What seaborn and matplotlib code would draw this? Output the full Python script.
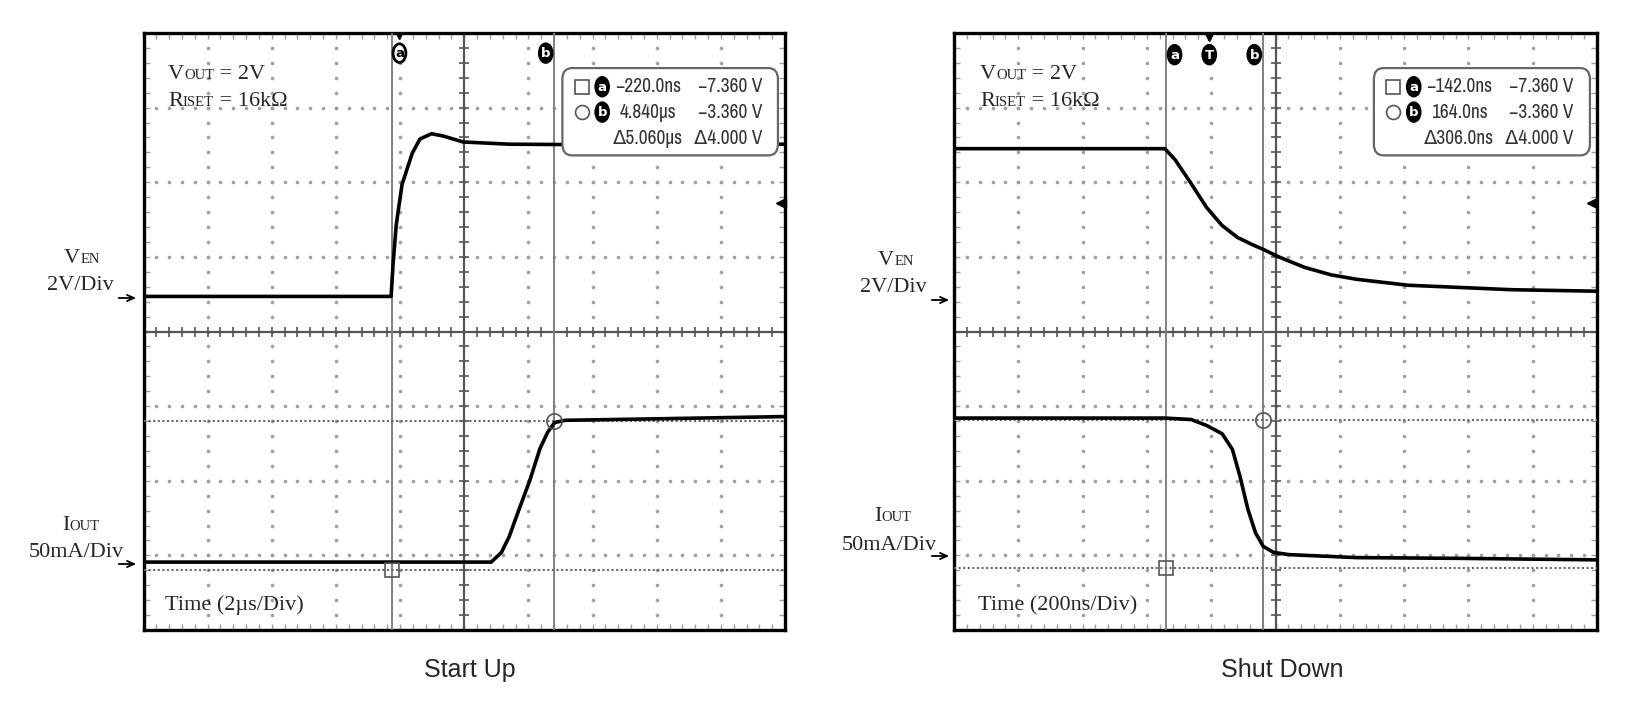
import numpy as np
import seaborn as sns
import matplotlib
matplotlib.use("Agg")
import matplotlib.pyplot as plt
from matplotlib import font_manager
from matplotlib.patches import FancyBboxPatch, Ellipse

# scope traces, in divisions (x: 0-10, y: 0-8)
start_ven_t = [0, 3.86, 3.89, 3.94, 4.03, 4.19, 4.31, 4.49, 4.67, 4.98, 5.70, 7.5, 10]
start_ven_v = [4.47, 4.47, 4.90, 5.43, 5.97, 6.39, 6.58, 6.65, 6.62, 6.54, 6.51, 6.50, 6.51]
start_iout_t = [0, 5.42, 5.58, 5.70, 5.86, 6.02, 6.18, 6.30, 6.41, 6.57, 8.0, 10]
start_iout_v = [0.91, 0.91, 1.04, 1.25, 1.63, 2.00, 2.43, 2.65, 2.78, 2.81, 2.83, 2.86]

shut_ven_t = [0, 3.28, 3.44, 3.69, 3.93, 4.17, 4.41, 4.65, 4.81, 5.05, 5.45, 5.86, 6.26, 7.06, 7.87, 8.67, 10]
shut_ven_v = [6.45, 6.45, 6.30, 5.98, 5.66, 5.42, 5.26, 5.16, 5.10, 5.00, 4.86, 4.76, 4.70, 4.62, 4.59, 4.56, 4.54]
shut_iout_t = [0, 3.28, 3.69, 3.93, 4.17, 4.33, 4.45, 4.57, 4.69, 4.81, 4.97, 5.21, 6.26, 7.87, 10]
shut_iout_v = [2.84, 2.84, 2.82, 2.74, 2.63, 2.42, 2.05, 1.62, 1.30, 1.12, 1.04, 1.01, 0.97, 0.96, 0.94]

# cursors (divisions)
start_cursors = [3.875, 6.405]
start_hcursors = [0.81, 2.80]
shut_cursors = [3.30, 4.81]
shut_hcursors = [0.83, 2.82]
shut_trigger = 3.97

start_read_time = ["\u2212220.0ns", "4.840\u00b5s", "\u03945.060\u00b5s"]
start_read_volt = ["\u22127.360 V", "\u22123.360 V", "\u03944.000 V"]
shut_read_time = ["\u2212142.0ns", "164.0ns", "\u0394306.0ns"]
shut_read_volt = ["\u22127.360 V", "\u22123.360 V", "\u03944.000 V"]

sns.set_style("white")
W, H = 1650, 719
fig = plt.figure(figsize=(16.5, 7.19), dpi=100)
serif = "Liberation Serif"

# narrow font for the scope readout, if one is installed (DejaVu fills in missing glyphs)
narrow = dict(family=["Liberation Sans", "DejaVu Sans"], size=11)
for f in font_manager.fontManager.ttflist:
    if "Narrow" in f.name or "Condensed" in f.name:
        narrow = dict(family=[f.name, "DejaVu Sans"], size=14)
        break
renderer = fig.canvas.get_renderer()
BIG, SMALL = 16, 10.5


def caps_text(px, py, parts):
    # small caps look: parts alternate big / small pieces on one baseline
    x = px
    for i, s in enumerate(parts):
        t = fig.text(x / W, 1 - py / H, s, size=BIG if i % 2 == 0 else SMALL,
                     family=serif, va="baseline", ha="left")
        x += t.get_window_extent(renderer).width


def arrow(ax, px0, px1, py):
    ax.annotate("", xy=(px1, H - py), xytext=(px0, H - py), xycoords="figure pixels",
                arrowprops=dict(arrowstyle="->,head_length=0.5,head_width=0.22", lw=1.3, color="black"),
                annotation_clip=False)


def tag(ax, x, y, letter, filled=True):
    ax.add_patch(Ellipse((x, y), 0.2, 0.25, fc="black" if filled else "white", ec="black",
                         lw=2, zorder=8, clip_on=False))
    ax.text(x, y - 0.01, letter, ha="center", va="center", color="white" if filled else "black",
            size=9.5, weight="bold", family="DejaVu Sans", zorder=9)


def scope(x0, x1, ven_t, ven_v, iout_t, iout_v, cursors, hcursors, rt, rv):
    ax = fig.add_axes([x0 / W, 1 - 630 / H, (x1 - x0) / W, 597 / H])
    ax.set_xlim(0, 10)
    ax.set_ylim(0, 8)
    for s in ax.spines.values():
        s.set_visible(True)
        s.set_color("black")
        s.set_linewidth(2.4)
    ax.set_xticks([])
    ax.set_yticks([])
    ax.set_xticks(np.arange(0.2, 10, 0.2), minor=True)
    ax.set_yticks(np.arange(0.2, 8, 0.2), minor=True)
    ax.tick_params(which="minor", direction="in", length=4, width=1, color="#a0a0a0",
                   bottom=True, top=True, left=True, right=True,
                   labelbottom=False, labelleft=False)

    # graticule dots
    gx = np.arange(0, 10.01, 0.2)
    gy = np.arange(0, 8.01, 0.2)
    for k in range(1, 10):
        if k != 5:
            ax.plot(np.full_like(gy, k), gy, ls="none", marker="o", ms=1.6, color="#a0a0a0", zorder=1)
    for k in range(1, 8):
        if k != 4:
            ax.plot(gx, np.full_like(gx, k), ls="none", marker="o", ms=1.6, color="#a0a0a0", zorder=1)
    ax.axhline(4, color="#555", lw=1.6, zorder=2)
    ax.axvline(5, color="#555", lw=1.6, zorder=2)
    ax.plot(gx, np.full_like(gx, 4), ls="none", marker="|", ms=7, mew=1.2, color="#555", zorder=2)
    ax.plot(np.full_like(gy, 5), gy, ls="none", marker="_", ms=7, mew=1.2, color="#555", zorder=2)

    # cursors
    for c in cursors:
        ax.axvline(c, color="#808080", lw=1.4, zorder=3)
    for c in hcursors:
        ax.axhline(c, color="#666", lw=1.5, ls=(0, (1, 1.2)), zorder=3)

    sns.lineplot(x=ven_t, y=ven_v, ax=ax, color="black", lw=2.6, estimator=None, sort=False,
                 zorder=4, legend=False)
    sns.lineplot(x=iout_t, y=iout_v, ax=ax, color="black", lw=2.6, estimator=None, sort=False,
                 zorder=4, legend=False)

    ax.plot(cursors[0], hcursors[0], marker="s", ms=10, mfc="none", mec="#555", mew=1.2, zorder=5)
    ax.plot(cursors[1], hcursors[1], marker="o", ms=11, mfc="none", mec="#555", mew=1.2, zorder=5)
    ax.plot(9.93, 5.72, marker="<", ms=7, color="black", clip_on=False, zorder=6)

    # readout box
    ax.add_patch(FancyBboxPatch((6.53, 6.36), 3.36, 1.17, boxstyle="round,pad=0,rounding_size=0.15",
                                fc="white", ec="#666", lw=1.6, zorder=6))
    rows = [7.28, 6.94, 6.58]
    ax.plot(6.83, rows[0], marker="s", ms=10, mfc="white", mec="#555", mew=1.2, zorder=7)
    ax.plot(6.83, rows[1], marker="o", ms=10, mfc="white", mec="#555", mew=1.2, zorder=7)
    tag(ax, 7.15, rows[0], "a")
    tag(ax, 7.15, rows[1], "b")
    for y, t, v in zip(rows, rt, rv):
        ax.text(7.86, y, t, ha="center", va="center", color="#333", zorder=7, **narrow)
        ax.text(9.64, y, v, ha="right", va="center", color="#333", zorder=7, **narrow)
    return ax


ax1 = scope(143.5, 785, start_ven_t, start_ven_v, start_iout_t, start_iout_v,
            start_cursors, start_hcursors, start_read_time, start_read_volt)
ax2 = scope(954, 1597, shut_ven_t, shut_ven_v, shut_iout_t, shut_iout_v,
            shut_cursors, shut_hcursors, shut_read_time, shut_read_volt)

# cursor tags along the top
ax1.plot(3.99, 7.96, marker="v", ms=5, color="black", zorder=8)
tag(ax1, 3.99, 7.73, "a", filled=False)
tag(ax1, 6.27, 7.73, "b")
ax2.plot(shut_trigger, 7.96, marker="v", ms=7, color="black", zorder=8)
tag(ax2, 3.43, 7.71, "a")
tag(ax2, shut_trigger, 7.71, "T")
tag(ax2, 4.67, 7.71, "b")

# annotations inside the screens
for px in (168, 980):
    caps_text(px, 79, ["V", "OUT", " = 2V"])
    caps_text(px, 106, ["R", "ISET", " = 16k\u03a9"])
fig.text(165 / W, 1 - 610 / H, "Time (2\u00b5s/Div)", family=serif, size=BIG, va="baseline")
fig.text(978 / W, 1 - 610 / H, "Time (200ns/Div)", family=serif, size=BIG, va="baseline")

# channel labels on the left of each screen
caps_text(64, 263, ["V", "EN"])
fig.text(47 / W, 1 - 290 / H, "2V/Div", family=serif, size=BIG, va="baseline")
caps_text(62, 530, ["I", "OUT"])
fig.text(29 / W, 1 - 557 / H, "50mA/Div", family=serif, size=BIG, va="baseline")
arrow(ax1, 116, 139, 298)
arrow(ax1, 116, 139, 564)

caps_text(878, 265, ["V", "EN"])
fig.text(860 / W, 1 - 292 / H, "2V/Div", family=serif, size=BIG, va="baseline")
caps_text(874, 521, ["I", "OUT"])
fig.text(842 / W, 1 - 550 / H, "50mA/Div", family=serif, size=BIG, va="baseline")
arrow(ax2, 929, 952, 300)
arrow(ax2, 929, 952, 556)

fig.text(470 / W, 1 - 670 / H, "Start Up", ha="center", va="center", family="Liberation Sans", size=18)
fig.text(1282 / W, 1 - 670 / H, "Shut Down", ha="center", va="center", family="Liberation Sans", size=18)

fig.savefig("out.png", dpi=100, facecolor="white")
